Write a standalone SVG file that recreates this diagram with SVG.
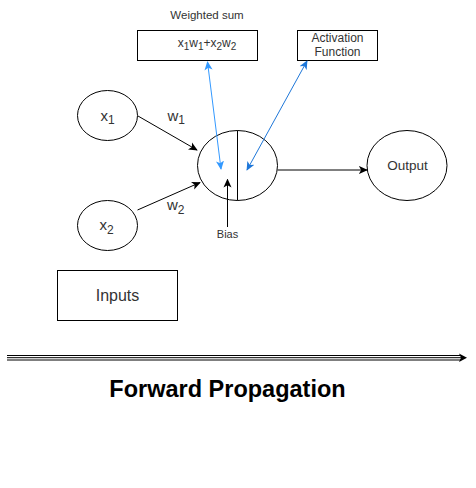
<svg xmlns="http://www.w3.org/2000/svg" width="476" height="488" viewBox="0 0 476 488">
  <defs>
    <style>
      .shape { fill: #ffffff; stroke: #000000; stroke-width: 1; }
      .lbl { font-family: "Liberation Sans", Arial, sans-serif; fill: #333333; }
      .edge { fill: none; stroke: #000000; stroke-width: 1; }
    </style>
    <marker id="arrBlack" viewBox="0 0 10 10" refX="9" refY="5" markerWidth="9" markerHeight="9" markerUnits="userSpaceOnUse" orient="auto">
      <path d="M0,0.5 L10,5 L0,9.5 L2.5,5 Z" fill="#000000"/>
    </marker>
    <marker id="arrLight" viewBox="0 0 10 10" refX="9" refY="5" markerWidth="9" markerHeight="9" markerUnits="userSpaceOnUse" orient="auto-start-reverse">
      <path d="M0,0.5 L10,5 L0,9.5 L2.5,5 Z" fill="#3399FF"/>
    </marker>
    <marker id="arrDark" viewBox="0 0 10 10" refX="9" refY="5" markerWidth="9" markerHeight="9" markerUnits="userSpaceOnUse" orient="auto-start-reverse">
      <path d="M0,0.5 L10,5 L0,9.5 L2.5,5 Z" fill="#1E77D9"/>
    </marker>
  </defs>

  <rect width="476" height="488" fill="#ffffff"/>

  <g id="weighted-sum-label">
    <text class="lbl" x="207" y="19.3" font-size="11.5" text-anchor="middle">Weighted sum</text>
  </g>

  <g id="weighted-sum">
    <rect class="shape" x="137.5" y="30.5" width="120" height="30"/>
    <text class="lbl" x="207" y="47" font-size="12" text-anchor="middle">x<tspan font-size="10" dy="3">1</tspan><tspan dy="-3">w</tspan><tspan font-size="10" dy="3">1</tspan><tspan dy="-3">+x</tspan><tspan font-size="10" dy="3">2</tspan><tspan dy="-3">w</tspan><tspan font-size="10" dy="3">2</tspan></text>
  </g>

  <g id="activation">
    <rect class="shape" x="297.5" y="30.5" width="80" height="30"/>
    <text class="lbl" x="337.5" y="41.7" font-size="12" text-anchor="middle">Activation</text>
    <text class="lbl" x="337.5" y="56.3" font-size="12" text-anchor="middle">Function</text>
  </g>

  <g id="x1">
    <ellipse class="shape" cx="107.5" cy="115.5" rx="30" ry="25"/>
    <text class="lbl" x="100.5" y="120.7" font-size="15">x<tspan font-size="12" dy="3.3">1</tspan></text>
  </g>

  <g id="x2">
    <ellipse class="shape" cx="107.5" cy="225.5" rx="30" ry="25"/>
    <text class="lbl" x="99.5" y="230.3" font-size="15">x<tspan font-size="12" dy="3.3">2</tspan></text>
  </g>

  <g id="w1">
    <text class="lbl" x="167.5" y="120.7" font-size="15">w<tspan font-size="12" dy="3.3">1</tspan></text>
  </g>

  <g id="w2">
    <text class="lbl" x="167" y="210.2" font-size="15">w<tspan font-size="12" dy="3.3">2</tspan></text>
  </g>

  <g id="neuron">
    <ellipse class="shape" cx="237.5" cy="165.5" rx="40" ry="35"/>
    <line x1="237.5" y1="130.5" x2="237.5" y2="200.5" stroke="#000" stroke-width="1"/>
  </g>

  <g id="bias">
    <text class="lbl" x="227.5" y="238" font-size="11" text-anchor="middle">Bias</text>
  </g>

  <g id="output">
    <ellipse class="shape" cx="407" cy="165.5" rx="40" ry="35"/>
    <text class="lbl" x="407.5" y="170" font-size="13.5" text-anchor="middle">Output</text>
  </g>

  <g id="inputs">
    <rect class="shape" x="57.5" y="270.5" width="120" height="50"/>
    <text class="lbl" x="117.5" y="301" font-size="16" text-anchor="middle">Inputs</text>
  </g>

  <g id="title">
    <text x="227.5" y="397" font-family="Liberation Sans, Arial, sans-serif" font-size="23.5" font-weight="bold" fill="#000000" text-anchor="middle">Forward Propagation</text>
  </g>

  <g id="connectors">
    <line class="edge" x1="138" y1="116" x2="197" y2="150" marker-end="url(#arrBlack)"/>
    <line class="edge" x1="137.5" y1="210" x2="200" y2="182.5" marker-end="url(#arrBlack)"/>
    <line class="edge" x1="227.5" y1="227" x2="227.5" y2="179.5" marker-end="url(#arrBlack)"/>
    <line class="edge" x1="277.5" y1="170" x2="367" y2="170" marker-end="url(#arrBlack)"/>
    <line x1="207.5" y1="62" x2="221" y2="169" stroke="#3399FF" stroke-width="1" marker-start="url(#arrLight)" marker-end="url(#arrLight)"/>
    <line x1="307" y1="61" x2="247" y2="170" stroke="#1E77D9" stroke-width="1" marker-start="url(#arrDark)" marker-end="url(#arrDark)"/>
    <g id="forward-arrow">
      <line x1="7" y1="355.5" x2="461" y2="355.5" stroke="#000" stroke-width="1"/>
      <line x1="7" y1="357.7" x2="461" y2="357.7" stroke="#000" stroke-width="1"/>
      <line x1="7" y1="360" x2="461" y2="360" stroke="#000" stroke-width="1"/>
      <path d="M459,353.5 L467,357.7 L459,362 L461,357.7 Z" fill="#000"/>
    </g>
  </g>
</svg>
